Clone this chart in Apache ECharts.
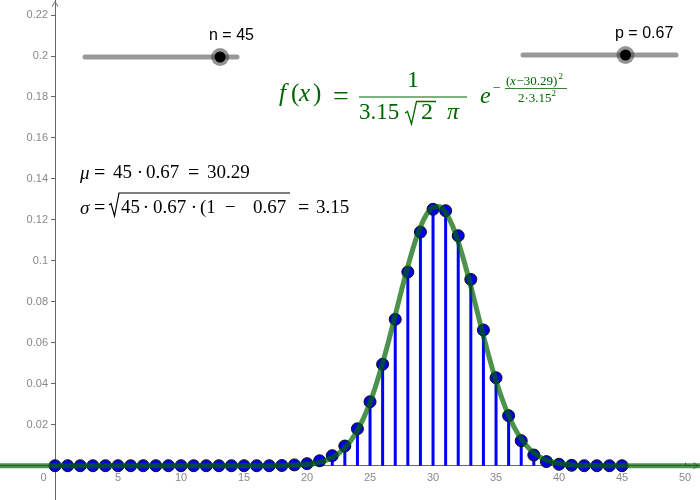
<!DOCTYPE html>
<html><head><meta charset="utf-8">
<script src="https://cdn.jsdelivr.net/npm/echarts@6/dist/echarts.min.js"></script>
<style>html,body{margin:0;padding:0;background:#fff}#c{width:700px;height:500px}</style>
</head><body><div id="c"></div>
<script>
// ---- data ----
const kValues = [0,1,2,3,4,5,6,7,8,9,10,11,12,13,14,15,16,17,18,19,20,21,22,23,24,25,26,27,28,29,30,31,32,33,34,35,36,37,38,39,40,41,42,43,44,45];
const pmfValues = [0,0,0,0,0,0,0,0,0,0,
  0,0,0,0,0,0,0,0,0.0001,0.0004,
  0.0010,0.0024,0.0049,0.0096,0.0180,0.0312,0.0495,0.0714,0.0945,0.1140,
  0.1251,0.1244,0.1122,0.0909,0.0662,0.0429,0.0244,0.0122,0.0052,0.0020,
  0.0007,0.0002,0,0,0,0];
const curveX = [-4.37,10,15,17,18,19,19.5,20,20.5,21,21.5,22,22.5,23,23.5,24,24.5,25,25.5,26,26.5,27,27.5,28,28.5,29,29.5,30,30.5,31,31.5,32,32.5,33,33.5,34,34.5,35,35.5,36,36.5,37,37.5,38,38.5,39,39.5,40,41,42,45,51.19];
const curveY = [0,0,0,0,0.00004,0.0002,0.0004,0.0006,0.0010,0.0016,0.0026,0.0040,0.0060,0.0087,0.0124,0.0173,0.0234,0.0309,0.0399,0.0501,0.0614,0.0734,0.0856,0.0972,0.1078,0.1165,0.1227,0.1261,0.1264,0.1235,0.1177,0.1093,0.0990,0.0875,0.0754,0.0633,0.0519,0.0414,0.0323,0.0245,0.0181,0.0131,0.0092,0.0063,0.0042,0.0028,0.0018,0.0011,0.0004,0.0001,0,0];
const xTickValues = [0,5,10,15,20,25,30,35,40,45,50];
const yTickValues = [0.02,0.04,0.06,0.08,0.1,0.12,0.14,0.16,0.18,0.2,0.22];
const nValue = 45, pValue = 0.67, muValue = 30.29, sigmaValue = 3.15;
const nRange = [5, 50], pRange = [0, 1];

const chart = echarts.init(document.getElementById('c'), null, {renderer:'canvas'});
const G = '#006400';
const SERIF = '"Liberation Serif", "DejaVu Serif", serif';
const SANS = '"Liberation Sans", Arial, sans-serif';
function T(text, x, y, size, opt) {
  opt = opt || {};
  return {type:'text', x:x, y:y, z:10, style:{text:text, fill:opt.fill||'#000',
    font:(opt.italic?'italic ':'') + size + 'px ' + (opt.family||SERIF),
    align:opt.align||'left', verticalAlign:'middle'}};
}
function L(x1,y1,x2,y2,color,w){return {type:'line', z:10, shape:{x1:x1,y1:y1,x2:x2,y2:y2}, style:{stroke:color,lineWidth:w}};}
function P(points,color,w){return {type:'polyline', z:10, shape:{points:points}, style:{stroke:color,lineWidth:w,fill:null}};}
function slider(x1, x2, y, frac, label, lx, ly) {
  const kx = x1 + frac*(x2-x1);
  return [
    {type:'line', z:10, shape:{x1:x1,y1:y,x2:x2,y2:y}, style:{stroke:'#999',lineWidth:5,lineCap:'round'}},
    {type:'circle', z:11, shape:{cx:kx,cy:y,r:9}, style:{fill:'rgba(60,60,60,0.55)'}},
    {type:'circle', z:12, shape:{cx:kx,cy:y,r:5.5}, style:{fill:'#000'}},
    T(label, lx, ly, 16, {family:SANS})
  ];
}
const mu = muValue.toFixed(2), sg = sigmaValue.toFixed(2);
const graphics = [].concat(
  slider(85, 237, 57, (nValue-nRange[0])/(nRange[1]-nRange[0]), 'n = ' + nValue, 209, 36),
  slider(523, 676, 55, (pValue-pRange[0])/(pRange[1]-pRange[0]), 'p = ' + pValue, 615, 34),
  [
    // f(x) = 1/(σ√(2π)) e^{-(x-μ)^2/(2σ^2)}
    T('f', 279, 94, 25, {italic:true, fill:G}),
    T('(', 291, 94, 25, {fill:G}),
    T('x', 299, 94, 25, {italic:true, fill:G}),
    T(')', 313, 94, 25, {fill:G}),
    T('=', 341, 97.5, 28, {fill:G, align:'center'}),
    T('1', 413, 80.5, 24, {fill:G, align:'center'}),
    L(359, 97, 467, 97, G, 1.2),
    T(sg, 359, 112.5, 23, {fill:G}),
    P([[405,113],[407.5,111.5],[411.5,124],[416.5,101.5],[436,101.5]], G, 1.3),
    T('2', 421, 112.5, 24, {fill:G}),
    T('π', 447, 112.5, 24, {italic:true, fill:G}),
    T('e', 480, 96.5, 24, {italic:true, fill:G}),
    T('−', 493, 88, 14, {fill:G}),
    T('(', 506, 82, 13, {fill:G}),
    T('x', 510, 82, 13, {italic:true, fill:G}),
    T('−' + mu + ')', 516.5, 82, 13, {fill:G}),
    T('2', 558.5, 77, 9, {fill:G}),
    L(505, 88.5, 567, 88.5, G, 0.8),
    T('2·' + sg, 518, 98.5, 13, {fill:G}),
    T('2', 551.5, 93.5, 9, {fill:G}),
    // mu line
    T('μ', 80, 174, 19, {italic:true}),
    T('=', 94, 174, 20),
    T(String(nValue), 113, 173.5, 19),
    T('·', 140, 173.5, 19, {align:'center'}),
    T(String(pValue), 146, 173.5, 19),
    T('=', 188, 174, 20),
    T(mu, 207, 173.5, 19),
    // sigma line
    T('σ', 80, 208.5, 19, {italic:true}),
    T('=', 94, 208.5, 20),
    P([[109,205],[111,203.5],[114.5,216],[119,193],[290,193]], '#000', 1.2),
    T(String(nValue), 121, 208, 19),
    T('·', 146, 208, 19, {align:'center'}),
    T(String(pValue), 153, 208, 19),
    T('·', 194, 208, 19, {align:'center'}),
    T('(1', 200, 208, 19),
    T('−', 225, 208, 19),
    T(String(pValue), 253, 208, 19),
    T('=', 298, 208.5, 20),
    T(sg, 316, 208, 19)
  ]
);

const arrowPath = 'path://M5 0 L10 8 L9 9 L5 2 L1 9 L0 8 Z';
const labelStyle = {color:'#888', fontSize:11, fontFamily:SANS};
const option = {
  animation:false,
  backgroundColor:'#fff',
  grid:[
    {left:0,right:0,top:0,bottom:0,containLabel:false,outerBoundsMode:'none'},
    {left:55,right:0,top:0,bottom:34.3,containLabel:false,outerBoundsMode:'none'}
  ],
  xAxis:[
    {type:'value', gridIndex:0, min:-4.37, max:51.19,
      axisLine:{show:true,onZero:true,lineStyle:{color:'#666',width:1},symbol:['none',arrowPath],symbolSize:[8,6],symbolOffset:[0,-4]},
      axisTick:{show:true,inside:true,length:3,customValues:xTickValues,lineStyle:{color:'#666'}},
      axisLabel:{show:false}, splitLine:{show:false}},
    {type:'value', gridIndex:1, min:0, max:51.19,
      axisLine:{show:false}, axisTick:{show:false}, splitLine:{show:false},
      axisLabel:Object.assign({show:true, customValues:xTickValues, margin:7, showMinLabel:true,
        formatter:function(v){return v===0?'{z|0}':String(v);},
        rich:{z:Object.assign({padding:[0,23,0,0]}, labelStyle)}}, labelStyle)}
  ],
  yAxis:[
    {type:'value', gridIndex:0, min:-0.01673, max:0.2272,
      axisLine:{show:true,onZero:true,lineStyle:{color:'#666',width:1},symbol:['none',arrowPath],symbolSize:[8,6],symbolOffset:[0,-4]},
      axisTick:{show:true,inside:false,length:4,customValues:yTickValues,lineStyle:{color:'#666'}},
      axisLabel:{show:false}, splitLine:{show:false}},
    {type:'value', gridIndex:1, min:0, max:0.2272,
      axisLine:{show:false}, axisTick:{show:false}, splitLine:{show:false},
      axisLabel:Object.assign({show:true, customValues:yTickValues, margin:7,
        formatter:function(v){return String(+v.toFixed(2));}}, labelStyle)}
  ],
  series:[
    {type:'bar', xAxisIndex:0, yAxisIndex:0, data:kValues.map((k,i)=>[k,pmfValues[i]]), barWidth:3, itemStyle:{color:'#0000ff'}, silent:true},
    {type:'scatter', xAxisIndex:0, yAxisIndex:0, data:kValues.map((k,i)=>[k,pmfValues[i]]), symbolSize:12,
      itemStyle:{color:'#0000e6',borderColor:'#111',borderWidth:1,opacity:1}, silent:true},
    {type:'line', xAxisIndex:0, yAxisIndex:0, data:curveX.map((x,i)=>[x,curveY[i]]), smooth:0.3, showSymbol:false, symbol:'none',
      lineStyle:{color:'rgba(0,100,0,0.7)',width:5}, silent:true}
  ],
  graphic:graphics
};
chart.setOption(option);
</script></body></html>
